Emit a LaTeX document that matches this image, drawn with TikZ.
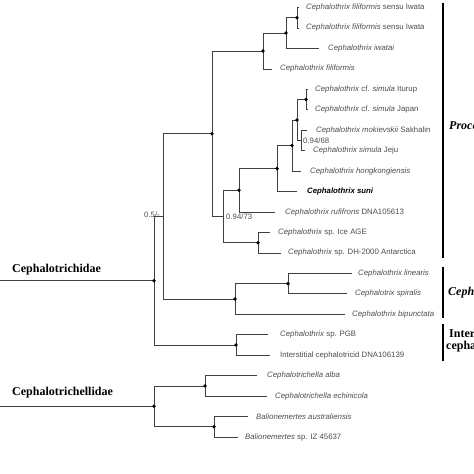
\documentclass[tikz,border=0pt]{standalone}
\usepackage{fontspec}
\setmainfont{Liberation Sans}
\newfontfamily\tnr{Liberation Serif}
\begin{document}
\begin{tikzpicture}[x=1pt,y=-1pt,
  br/.style={draw=black!75,line width=0.8pt},
  bar/.style={draw=black,line width=1.6pt},
  tip/.style={anchor=west,inner sep=0pt,font=\fontsize{7.8}{9}\selectfont,text=black!70},
  sup/.style={inner sep=0pt,font=\fontsize{7.8}{9}\selectfont,text=black!70},
  fam/.style={anchor=west,inner sep=0pt,font=\tnr\bfseries\fontsize{12}{14}\selectfont},
  grp/.style={anchor=west,inner sep=0pt,font=\tnr\bfseries\fontsize{12}{14}\selectfont},
  dot/.style={circle,fill=black,inner sep=0pt,minimum size=3.8pt}]
\useasboundingbox (0,0) rectangle (474,474);
\clip (0,0) rectangle (474,474);
% tips: coordinates (line end) and labels
\coordinate (t1) at (299,7.5);   \node[tip] (l1) at (306,7.5) {\textit{Cephalothrix filiformis} sensu Iwata};
\coordinate (t2) at (299,27.9);  \node[tip] (l2) at (306,27.9) {\textit{Cephalothrix filiformis} sensu Iwata};
\coordinate (t3) at (319,48.4);  \node[tip] (l3) at (328,48.4) {\textit{Cephalothrix iwatai}};
\coordinate (t4) at (272,68.9);  \node[tip] (l4) at (280,68.9) {\textit{Cephalothrix filiformis}};
\coordinate (t5) at (308,89.3);  \node[tip] (l5) at (315,89.3) {\textit{Cephalothrix} cf. \textit{simula} Iturup};
\coordinate (t6) at (308,109.8); \node[tip] (l6) at (315,109.8) {\textit{Cephalothrix} cf. \textit{simula} Japan};
\coordinate (t7) at (307,130.2); \node[tip] (l7) at (316,130.2) {\textit{Cephalothrix mokievskii} Sakhalin};
\coordinate (t8) at (305,150.7); \node[tip] (l8) at (313,150.7) {\textit{Cephalothrix simula} Jeju};
\coordinate (t9) at (301,171.1); \node[tip] (l9) at (310,171.1) {\textit{Cephalothrix hongkongiensis}};
\coordinate (t10) at (297,191.6); \node[tip,text=black] (l10) at (307,191.6) {\bfseries\itshape Cephalothrix suni};
\coordinate (t11) at (275,212.0); \node[tip] (l11) at (285,212.0) {\textit{Cephalothrix rufifrons} DNA105613};
\coordinate (t12) at (270,232.5); \node[tip] (l12) at (278,232.5) {\textit{Cephalothrix} sp. Ice AGE};
\coordinate (t13) at (281,252.9); \node[tip] (l13) at (288,252.9) {\textit{Cephalothrix} sp. DH-2000 Antarctica};
\coordinate (t14) at (352,273.4); \node[tip] (l14) at (358,273.4) {\textit{Cephalothrix linearis}};
\coordinate (t15) at (347,293.8); \node[tip] (l15) at (355,293.8) {\textit{Cephalotrix spiralis}};
\coordinate (t16) at (345,314.3); \node[tip] (l16) at (352,314.3) {\textit{Cephalothrix bipunctata}};
\coordinate (t17) at (268,334.7); \node[tip] (l17) at (280,334.7) {\textit{Cephalothrix} sp. PGB};
\coordinate (t18) at (270,355.2); \node[tip] (l18) at (280,355.2) {Interstitial cephalotricid DNA106139};
\coordinate (t19) at (257,375.6); \node[tip] (l19) at (267,375.6) {\textit{Cephalotrichella alba}};
\coordinate (t20) at (267,396.1); \node[tip] (l20) at (275,396.1) {\textit{Cephalotrichella echinicola}};
\coordinate (t21) at (248,416.5); \node[tip] (l21) at (256,416.5) {\textit{Balionemertes australiensis}};
\coordinate (t22) at (238,437.0); \node[tip] (l22) at (245,437.0) {\textit{Balionemertes} sp. IZ 45637};
% internal nodes
\coordinate (A) at (297,17.7);
\coordinate (B) at (286,33.0);
\coordinate (C) at (263,51.0);
\coordinate (E) at (306,99.5);
\coordinate (F) at (301,140.5);
\coordinate (G) at (297,120.0);
\coordinate (H) at (292,145.5);
\coordinate (Hs) at (277,168.6);
\coordinate (R) at (239,190.3);
\coordinate (J) at (258,242.7);
\coordinate (I) at (223,216.5);
\coordinate (D) at (212,133.8);
\coordinate (L) at (288,283.6);
\coordinate (M) at (235,299.0);
\coordinate (K) at (163,216.4);
\coordinate (P) at (236,345.0);
\coordinate (N) at (154,280.7);
\coordinate (Q) at (205,385.9);
\coordinate (S) at (214,426.8);
\coordinate (T) at (154,406.3);
\coordinate (r1) at (0,280.7);
\coordinate (r2) at (0,406.3);
% branches: parent |- child
\foreach \p/\c in {A/t1,A/t2,B/A,B/t3,C/B,C/t4,D/C,D/I,
  E/t5,E/t6,F/t7,F/t8,G/E,G/F,H/G,H/t9,Hs/H,Hs/t10,R/Hs,R/t11,
  J/t12,J/t13,I/R,I/J,L/t14,L/t15,M/L,M/t16,K/D,K/M,
  P/t17,P/t18,N/K,N/P,Q/t19,Q/t20,S/t21,S/t22,T/Q,T/S}
  \draw[br] (\p) |- (\c);
\draw[br] (r1) -- (N);
\draw[br] (r2) -- (T);
% dots
\foreach \n in {A,B,C,D,E,G,H,Hs,R,J,L,M,N,P,Q,S,T}
  \node[dot] at (\n) {};
% support values
\node[sup,anchor=south east] (s1) at ([xshift=-3pt,yshift=-1.5pt]K) {0.5/-};
\node[sup,anchor=west] (s2) at ([xshift=3pt]I) {0.94/73};
\node[sup,anchor=west] (s3) at ([xshift=2pt]F) {0.94/68};
% family labels
\node[fam] (f1) at (12,269.5) {Cephalotrichidae};
\node[fam] (f2) at (12,393) {Cephalotrichellidae};
% group bars
\coordinate (b1a) at (443,3);   \coordinate (b1b) at (443,258);
\coordinate (b2a) at (443,267); \coordinate (b2b) at (443,318);
\coordinate (b3a) at (443,324); \coordinate (b3b) at (443,361);
\draw[bar] (b1a) -- (b1b);
\draw[bar] (b2a) -- (b2b);
\draw[bar] (b3a) -- (b3b);
\node[grp] (g1) at (449,127) {\itshape Procephalothrix};
\node[grp] (g2) at (448,293) {\itshape Cephalothrix};
\node[grp] (g3) at (449,333) {Interstitial};
\node[grp] (g4) at (446,347) {cephalotricids};
\end{tikzpicture}
\end{document}
